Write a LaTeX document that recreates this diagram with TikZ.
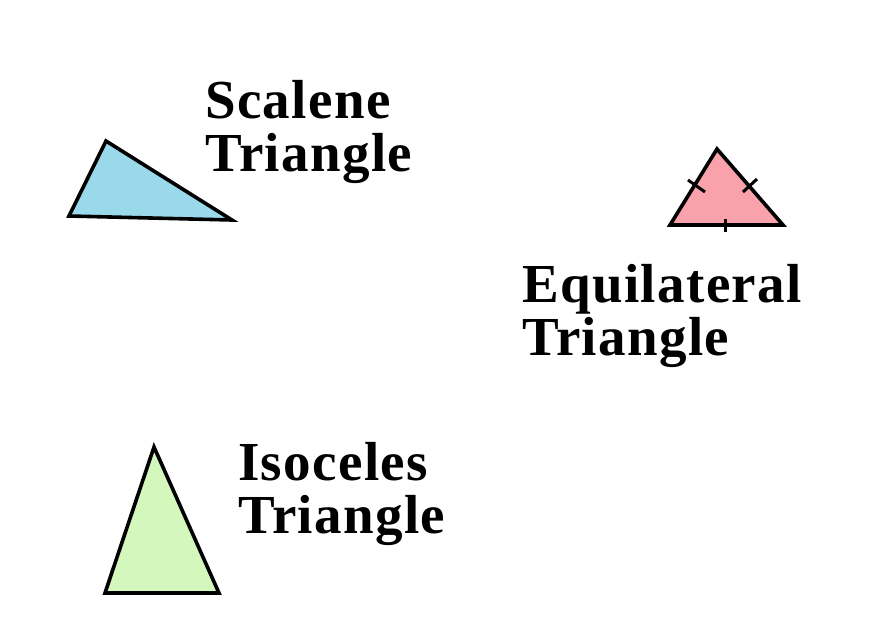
\documentclass[tikz,border=0pt]{standalone}
\usepackage{fontspec}
\setmainfont{Liberation Serif}[LetterSpace=2.5]
\usetikzlibrary{positioning}
\definecolor{scalblue}{RGB}{153,217,234}
\definecolor{equipink}{RGB}{250,162,172}
\definecolor{isogreen}{RGB}{212,247,190}
\tikzset{
  shape line/.style={black, line width=3.6pt, line join=miter},
  tick line/.style={black, line width=3pt},
  name text/.style={inner sep=0pt, anchor=base west, font=\fontsize{55}{53}\selectfont\bfseries}
}
\begin{document}
\begin{tikzpicture}[x=1pt,y=-1pt]
\useasboundingbox (0,0) rectangle (869,630);
% scalene
\draw [shape line, fill=scalblue] (106,141) -- (69,216) -- (232,220) -- cycle;
\node [name text] (scl1) at (205,118) {Scalene};
\node [name text] (scl2) at ([yshift=-53pt]scl1.base west) {Triangle};
% equilateral
\draw [shape line, fill=equipink] (717,149) -- (670,225) -- (783,225) -- cycle;
\draw [tick line] (688,180) -- (705,192);
\draw [tick line] (743,192) -- (757,179);
\draw [tick line] (725,219) -- (725,232);
\node [name text] (equ1) at (522,302) {Equilateral};
\node [name text] (equ2) at ([yshift=-53pt]equ1.base west) {Triangle};
% isosceles
\draw [shape line, fill=isogreen] (154,447) -- (105,593) -- (219,593) -- cycle;
\node [name text] (iso1) at (238,480) {Isoceles};
\node [name text] (iso2) at ([yshift=-53pt]iso1.base west) {Triangle};
\end{tikzpicture}
\end{document}
